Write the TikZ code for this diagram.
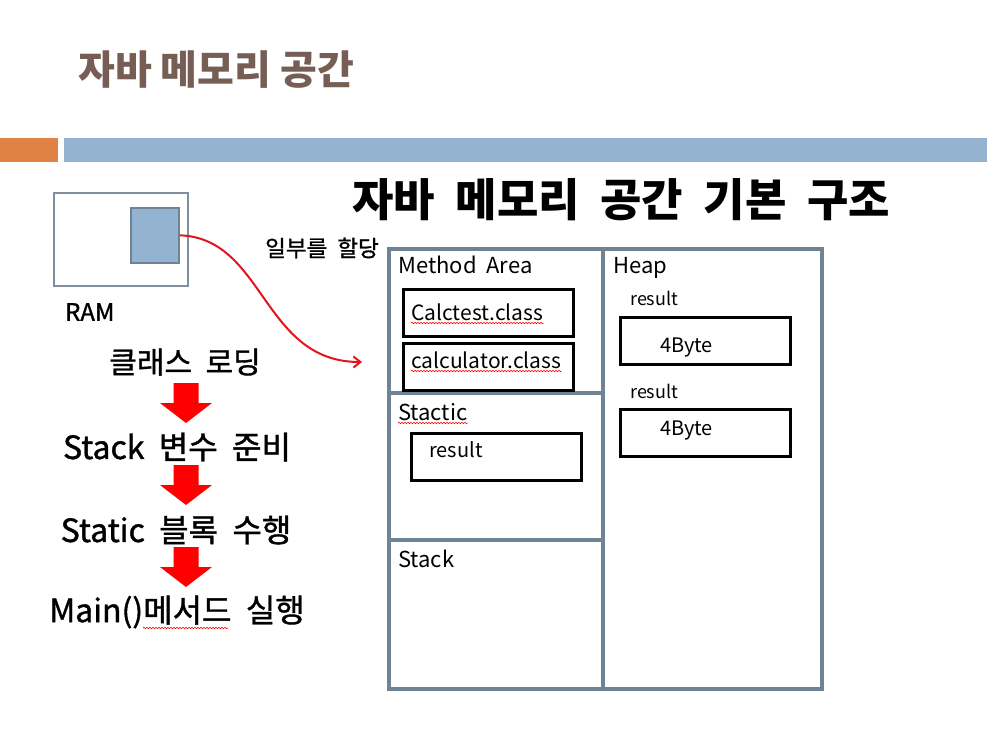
\documentclass[tikz,border=0pt]{standalone}
\usepackage{fontspec}
\setmainfont{Noto Sans CJK KR}
\newfontfamily\medfont{Noto Sans CJK KR}[FakeBold=1.2]
\usetikzlibrary{arrows.meta,decorations.pathmorphing,calc}
\definecolor{titlebrown}{HTML}{765E55}
\definecolor{barorange}{HTML}{DF8244}
\definecolor{barblue}{HTML}{94B3D0}
\definecolor{framegray}{HTML}{6F8394}
\definecolor{ramgray}{HTML}{7F8FA0}
\definecolor{arrowred}{HTML}{FF0000}
\definecolor{curvered}{HTML}{E3141E}
\tikzset{
  lbl/.style={inner sep=0pt, anchor=base west, font=\fontsize{22}{24}\selectfont},
  small/.style={inner sep=0pt, anchor=base west, font=\fontsize{18}{20}\selectfont},
  flow/.style={inner sep=0pt, anchor=center, font=\medfont\fontsize{32}{34}\selectfont},
  ibox/.style={draw=black, line width=2.6pt, anchor=north west, inner sep=0pt},
  frame/.style={draw=framegray, line width=3.6pt},
  spell/.style={draw=red, line width=0.6pt, decorate, decoration={snake, amplitude=0.7pt, segment length=3pt}},
  blockdown/.pic={\fill[arrowred] (-12.5,0) -- (12.5,0) -- (12.5,20) -- (26,20) -- (0,40) -- (-26,20) -- (-12.5,20) -- cycle;}
}
\begin{document}
\begin{tikzpicture}[x=1pt,y=-1pt]
\useasboundingbox (0,0) rectangle (987,740);
\fill[white] (0,0) rectangle (987,740);
% title and bars
\node[inner sep=0pt, anchor=west, text=titlebrown, font=\fontsize{40}{44}\selectfont\bfseries] (title) at (78,70) {자바 메모리 공간};
\fill[barorange] (0,138) rectangle (58,162);
\fill[barblue] (64,138) rectangle (987,162);
% heading
\node[inner sep=0pt, anchor=west, font=\fontsize{45}{49}\selectfont\bfseries] (heading) at (352,200) {자바\ \ 메모리\ \ 공간\ \ 기본\ \ 구조};
% RAM
\node[draw=ramgray, line width=2.2pt, anchor=north west, minimum width=134, minimum height=93, inner sep=0pt] (ram) at (53,192) {};
\node[draw=framegray, fill=barblue, line width=1.6pt, anchor=north west, minimum width=48, minimum height=55, inner sep=0pt] (part) at (130,207) {};
\node[inner sep=0pt, anchor=west, font=\medfont\fontsize{24}{26}\selectfont] (ramlbl) at (65,312) {RAM};
\node[inner sep=0pt, anchor=west, font=\medfont\fontsize{22.5}{24}\selectfont] (alloc) at (265,248) {일부를\ \ 할당};
% main frame
\node[frame, anchor=north west, minimum width=433, minimum height=440, inner sep=0pt] (mem) at (387,247) {};
\coordinate (vtop) at (603,247);
\coordinate (vbot) at (603,687);
\draw[frame] (vtop) -- (vbot);
\coordinate (h1l) at (387,393);
\coordinate (h1r) at (603,393);
\coordinate (h2l) at (387,540);
\coordinate (h2r) at (603,540);
\draw[frame] (h1l) -- (h1r);
\draw[frame] (h2l) -- (h2r);
% curve
\draw[curvered, line width=2pt, -{Straight Barb[length=7pt,width=11pt]}] (part.east) .. controls (265,238) and (262,362) .. (362,362);
% Method area
\node[lbl] (mtitle) at (398,273) {Method\ \ Area};
\node[ibox, minimum width=170, minimum height=47] (b1) at (402,288) {};
\node[ibox, minimum width=170, minimum height=47] (b2) at (402,342) {};
\node[lbl, font=\fontsize{21}{23}\selectfont] (t1) at (411,320) {Calctest.class};
\node[lbl, font=\fontsize{21}{23}\selectfont] (t2) at (411,368) {calculator.class};
\draw[spell] ([yshift=-3pt]t1.base west) -- ([yshift=-3pt]t1.base east);
\draw[spell] ([yshift=-3pt]t2.base west) -- ([yshift=-3pt]t2.base east);
% Stactic
\node[lbl] (stitle) at (398,420) {Stactic};
\draw[spell] ([yshift=-3pt]stitle.base west) -- ([yshift=-3pt]stitle.base east);
\node[ibox, minimum width=170, minimum height=47] (b3) at (410,432) {};
\node[lbl, font=\fontsize{20}{22}\selectfont] (t3) at (429,457) {result};
% Stack
\node[lbl] (sktitle) at (398,567) {Stack};
% Heap
\node[lbl] (htitle) at (613,273) {Heap};
\node[small] (r1) at (630,305) {result};
\node[ibox, minimum width=170, minimum height=47] (h1) at (619,316) {};
\node[lbl, font=\fontsize{20}{22}\selectfont] (v1) at (660,352) {4Byte};
\node[small] (r2) at (630,398) {result};
\node[ibox, minimum width=170, minimum height=47] (h2) at (619,408) {};
\node[lbl, font=\fontsize{20}{22}\selectfont] (v2) at (660,435) {4Byte};
% flow
\node[flow, font=\medfont\fontsize{30}{32}\selectfont] (f1) at (185,362) {클래스\ \ 로딩};
\pic (a1) at (186,383) {blockdown};
\node[flow] (f2) at (177,447) {Stack\ \ 변수\ \ 준비};
\pic (a2) at (186,465) {blockdown};
\node[flow] (f3) at (176,530) {Static\ \ 블록\ \ 수행};
\pic (a3) at (186,547) {blockdown};
\node[flow] (f4) at (177,612) {Main()메서드\ \ 실행};
\coordinate (sq1) at (143,628);
\coordinate (sq2) at (228,628);
\draw[spell] (sq1) -- (sq2);
\end{tikzpicture}
\end{document}
